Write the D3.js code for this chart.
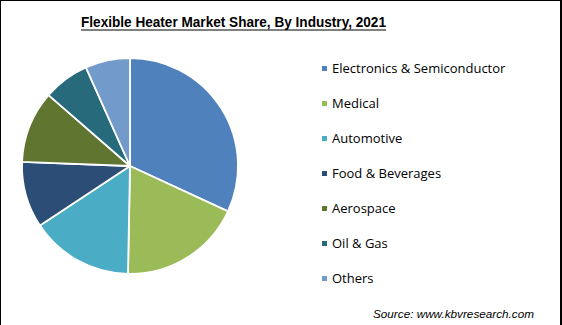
<!DOCTYPE html>
<html>
<head>
<meta charset="utf-8">
<script src="https://cdn.jsdelivr.net/npm/d3@7"></script>
<style>
  html, body { margin: 0; padding: 0; background: #fff; }
  svg { display: block; }
</style>
</head>
<body>
<svg></svg>
<script>
// pie of market share by industry (percent)

var categories = ["Electronics & Semiconductor", "Medical", "Automotive", "Food & Beverages", "Aerospace", "Oil & Gas", "Others"];
var shares = [31.9, 18.4, 15.4, 9.9, 10.8, 6.9, 6.7];
var colors = ["#4f81bd", "#9bbb59", "#4bacc6", "#2c4d75", "#5f7530", "#276a7c", "#729aca"];

var svgWidth = 562, svgHeight = 325;
var cx = 130, cy = 166, radius = 108;

var svg = d3.select("svg")
    .attr("width", svgWidth)
    .attr("height", svgHeight);

// frame (top, left, right)
svg.append("line").attr("x1", 0).attr("x2", svgWidth).attr("y1", 0.5).attr("y2", 0.5).attr("stroke", "#000");
svg.append("line").attr("x1", 0.5).attr("x2", 0.5).attr("y1", 0).attr("y2", svgHeight).attr("stroke", "#000");
svg.append("line").attr("x1", 561).attr("x2", 561).attr("y1", 0).attr("y2", svgHeight).attr("stroke", "#000").attr("stroke-width", 2);

// title
svg.append("text")
    .attr("x", 81)
    .attr("y", 27)
    .attr("textLength", 305)
    .attr("lengthAdjust", "spacingAndGlyphs")
    .style("font-family", "'Liberation Sans', Arial, sans-serif")
    .style("font-weight", "bold")
    .style("font-size", "14px")
    .attr("fill", "#000")
    .text("Flexible Heater Market Share, By Industry, 2021");

svg.append("line")
    .attr("x1", 81).attr("x2", 386)
    .attr("y1", 30).attr("y2", 30)
    .attr("stroke", "#000").attr("stroke-width", 1);

// pie
var color = d3.scaleOrdinal().domain(categories).range(colors);

var pie = d3.pie()
    .sort(null)
    .value(function(d, i) { return shares[i]; });

var arc = d3.arc()
    .innerRadius(0)
    .outerRadius(radius);

var g = svg.append("g")
    .attr("transform", "translate(" + cx + "," + cy + ")");

g.selectAll("path")
    .data(pie(categories))
    .enter()
    .append("path")
    .attr("d", arc)
    .attr("fill", function(d) { return color(d.data); })
    .attr("stroke", "#fff")
    .attr("stroke-width", 1.8)
    .attr("stroke-linejoin", "round");

// legend
var legendY = d3.scalePoint()
    .domain(categories)
    .range([68.5, 278.5]);

var legend = svg.selectAll(".legend")
    .data(categories)
    .enter()
    .append("g")
    .attr("class", "legend")
    .attr("transform", function(d) { return "translate(322," + legendY(d) + ")"; });

legend.append("rect")
    .attr("x", 0)
    .attr("y", -2.5)
    .attr("width", 5)
    .attr("height", 5)
    .attr("fill", function(d) { return color(d); });

legend.append("text")
    .attr("x", 10)
    .attr("y", 4.5)
    .style("font-family", "'Open Sans', sans-serif")
    .style("font-size", "13px")
    .attr("fill", "#000")
    .text(function(d) { return d; });

// source
svg.append("text")
    .attr("x", 373)
    .attr("y", 318)
    .attr("textLength", 161)
    .attr("lengthAdjust", "spacingAndGlyphs")
    .style("font-family", "'Liberation Sans', Arial, sans-serif")
    .style("font-style", "italic")
    .style("font-size", "11px")
    .attr("fill", "#000")
    .text("Source:  www.kbvresearch.com");
</script>
</body>
</html>
